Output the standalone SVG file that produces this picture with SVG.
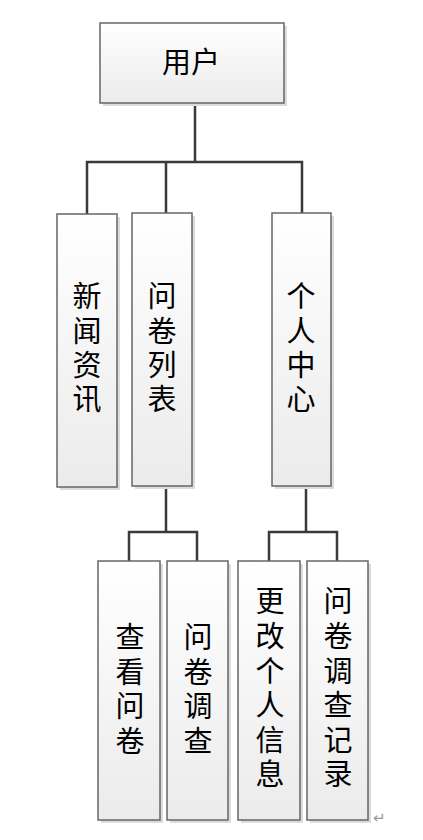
<svg xmlns="http://www.w3.org/2000/svg" width="423" height="840" viewBox="0 0 423 840">
<defs>
<linearGradient id="g" x1="0" y1="0" x2="0" y2="1">
<stop offset="0" stop-color="#ffffff"/>
<stop offset="1" stop-color="#ebebeb"/>
</linearGradient>
<style>
.box{fill:url(#g);stroke:#666;stroke-width:1.5}
.sh{fill:#dcdcdc}
.t{font-family:"Noto Sans CJK SC","Noto Sans",sans-serif;font-size:29px;fill:#000;text-anchor:middle}
.c{fill:none;stroke:#3a3a3a;stroke-width:2.5}
</style>
</defs>
<rect width="423" height="840" fill="#fff"/>
<g id="connectors">
<path class="c" d="M195 104V162M87 214V162H302V213M166 162V213"/>
<path class="c" d="M166 487V532M129 561V532H197V561"/>
<path class="c" d="M306 487V532M269 561V532H337V561"/>
</g>
<g id="user">
<rect class="sh" x="103" y="26" width="184" height="80"/>
<rect class="box" x="100" y="23" width="184" height="80"/>
<text class="t" x="191" y="73">用户</text>
</g>
<g id="news">
<rect class="sh" x="60" y="217" width="60" height="273"/>
<rect class="box" x="57" y="214" width="60" height="273"/>
<text class="t" x="87" y="307">新</text><text class="t" x="87" y="342">闻</text><text class="t" x="87" y="376">资</text><text class="t" x="87" y="410">讯</text>
</g>
<g id="survey-list">
<rect class="sh" x="135" y="216" width="60" height="273"/>
<rect class="box" x="132" y="213" width="60" height="273"/>
<text class="t" x="162" y="307">问</text><text class="t" x="162" y="342">卷</text><text class="t" x="162" y="376">列</text><text class="t" x="162" y="410">表</text>
</g>
<g id="personal">
<rect class="sh" x="275" y="216" width="59" height="273"/>
<rect class="box" x="272" y="213" width="59" height="273"/>
<text class="t" x="301" y="307">个</text><text class="t" x="301" y="342">人</text><text class="t" x="301" y="376">中</text><text class="t" x="301" y="410">心</text>
</g>
<g id="view-survey">
<rect class="sh" x="101" y="564" width="62" height="259"/>
<rect class="box" x="98" y="561" width="62" height="259"/>
<text class="t" x="130" y="648">查</text><text class="t" x="130" y="683">看</text><text class="t" x="130" y="717">问</text><text class="t" x="130" y="752">卷</text>
</g>
<g id="do-survey">
<rect class="sh" x="170" y="564" width="61" height="259"/>
<rect class="box" x="167" y="561" width="61" height="259"/>
<text class="t" x="198" y="648">问</text><text class="t" x="198" y="683">卷</text><text class="t" x="198" y="717">调</text><text class="t" x="198" y="752">查</text>
</g>
<g id="edit-info">
<rect class="sh" x="241" y="564" width="62" height="259"/>
<rect class="box" x="238" y="561" width="62" height="259"/>
<text class="t" x="270" y="612">更</text><text class="t" x="270" y="647">改</text><text class="t" x="270" y="682">个</text><text class="t" x="270" y="716">人</text><text class="t" x="270" y="751">信</text><text class="t" x="270" y="785">息</text>
</g>
<g id="survey-records">
<rect class="sh" x="310" y="564" width="61" height="259"/>
<rect class="box" x="307" y="561" width="61" height="259"/>
<text class="t" x="338" y="612">问</text><text class="t" x="338" y="647">卷</text><text class="t" x="338" y="682">调</text><text class="t" x="338" y="716">查</text><text class="t" x="338" y="751">记</text><text class="t" x="338" y="785">录</text>
</g>
<text x="373" y="823" font-family="DejaVu Sans,sans-serif" font-size="15" fill="#999">↵</text>
</svg>
